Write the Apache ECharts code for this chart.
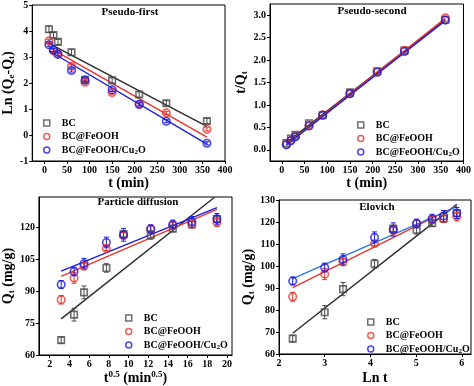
<!DOCTYPE html>
<html><head><meta charset="utf-8">
<script src="https://cdn.jsdelivr.net/npm/echarts@6/dist/echarts.min.js"></script>
<style>html,body{margin:0;padding:0;background:#fff}#c{width:474px;height:386px}</style>
</head><body><div id="c"></div>
<script>
// ---- data ----
const tMin = [10, 20, 30, 60, 90, 150, 210, 270, 360];
const sqrtT = [3.16, 4.47, 5.48, 7.75, 9.49, 12.25, 14.49, 16.43, 18.97];
const lnT = [2.30, 3.00, 3.40, 4.09, 4.50, 5.01, 5.35, 5.60, 5.89];
const seriesNames = ['BC', 'BC@FeOOH', 'BC@FeOOH/Cu2O'];

// Pseudo-first: ln(Qe-Qt)
const pfBC = [4.07, 3.84, 3.58, 3.18, 2.12, 2.10, 1.56, 1.22, 0.54];
const pfRed = [3.62, 3.24, 3.12, 2.64, 2.03, 1.63, 1.17, 0.85, 0.22];
const pfBlue = [3.47, 3.27, 3.10, 2.48, 2.11, 1.74, 1.18, 0.53, -0.32];
const pfErrBC = [0.12, 0.10, 0.10, 0.12, 0.08, 0.10, 0.10, 0.10, 0.10];
const pfErrRed = [0.06, 0.06, 0.06, 0.06, 0.06, 0.06, 0.06, 0.06, 0.06];
const pfErrBlue = [0.06, 0.06, 0.06, 0.06, 0.06, 0.06, 0.06, 0.06, 0.06];
const pfFitX = [10, 360];
const pfFitBC = [3.52, 0.33];
const pfFitRed = [3.37, -0.08];
const pfFitBlue = [3.24, -0.35];

// Pseudo-second: t/Qt
const psBC = [0.15, 0.25, 0.335, 0.59, 0.77, 1.28, 1.75, 2.21, 2.90];
const psRed = [0.12, 0.21, 0.30, 0.55, 0.78, 1.26, 1.74, 2.22, 2.94];
const psBlue = [0.11, 0.20, 0.29, 0.53, 0.77, 1.25, 1.73, 2.19, 2.89];
const psFitX = [10, 360];
const psFitBC = [0.16, 2.91];
const psFitRed = [0.12, 2.93];
const psFitBlue = [0.11, 2.88];

// Qt (mg/g) for particle diffusion and Elovich
const qBC = [67, 79, 89.5, 101, 117, 116.5, 119.5, 121.5, 124];
const qRed = [86, 96.3, 101.8, 110.2, 116.2, 119.3, 121, 121.5, 122.5];
const qBlue = [93.2, 99.3, 103, 113, 116.6, 119.3, 121.5, 122.7, 124.1];
const qErrBC = [1.5, 3, 3, 2, 1.5, 2, 1.5, 1.5, 1.5];
const qErrRed = [2, 2.5, 1.5, 1, 1.5, 1.5, 1.5, 1.5, 2];
const qErrBlue = [1.8, 2, 2.5, 2.5, 3, 2, 2, 2.5, 2.5];

const pdFitXBC = [3.16, 18.7];
const pdFitBC = [77, 134.2];
const pdFitX = [3.16, 18.97];
const pdFitRed = [97, 128.6];
const pdFitBlue = [99.5, 129.4];

const elFitX = [2.30, 5.89];
const elFitBC = [69.4, 128.0];
const elFitRed = [90.2, 127.3];
const elFitBlue = [94.3, 127.0];

// tick labels
const ticksT = [0, 50, 100, 150, 200, 250, 300, 350, 400];
const ticksPfY = [-1, 0, 1, 2, 3, 4, 5];
const ticksPsY = [0, 0.5, 1.0, 1.5, 2.0, 2.5, 3.0];
const ticksSqrt = [2, 4, 6, 8, 10, 12, 14, 16, 18, 20];
const ticksPdY = [60, 75, 90, 105, 120];
const ticksLn = [2, 3, 4, 5, 6];
const ticksElY = [60, 70, 80, 90, 100, 110, 120, 130];

const titles = ['Pseudo-first', 'Pseudo-second', 'Particle diffusion', 'Elovich'];

// ---- styles ----
const FONT = 'Liberation Serif';
const C_BC = '#4a4a4a', C_RED = '#e8352b', C_BLUE = '#1c1ce0';
const LINE_BC = '#2a2a2a';

const grids = [
  {left: 29, top: 5, width: 196, height: 156},
  {left: 270, top: 4, width: 194, height: 157},
  {left: 37, top: 197, width: 195, height: 158},
  {left: 279, top: 200, width: 192, height: 157}
];

const sub = {fontSize: 9, fontWeight: 'bold', fontFamily: FONT, padding: [7, 0, 0, 0]};
const sup = {fontSize: 9, fontWeight: 'bold', fontFamily: FONT, padding: [0, 0, 7, 0]};
const nameBase = {fontSize: 14, fontWeight: 'bold', fontFamily: FONT, color: '#000'};

function axis(gi, min, max, ticks, fmt, name, gap) {
  return {
    type: 'value', gridIndex: gi, min: min, max: max,
    name: name, nameLocation: 'middle', nameGap: gap,
    nameTextStyle: Object.assign({}, nameBase, {rich: {a: nameBase, s: sub, p: sup}}),
    axisLine: {show: true, onZero: false, lineStyle: {color: '#000', width: 1}},
    axisTick: {show: true, inside: false, length: 3, customValues: ticks, lineStyle: {color: '#000'}},
    axisLabel: {customValues: ticks, formatter: fmt, fontFamily: FONT, fontWeight: 'bold', fontSize: 10, color: '#000', margin: 4},
    splitLine: {show: false}
  };
}

const xAxes = [
  axis(0, -27, 400, ticksT, v => String(v), '{a|t (min)}', 15),
  axis(1, -26, 400, ticksT, v => String(v), '{a|t (min)}', 15),
  axis(2, 0.9, 20.5, ticksSqrt, v => String(v), '{a|t}{p|0.5}{a| (min}{p|0.5}{a|)}', 14),
  axis(3, 2, 6.2, ticksLn, v => String(v), '{a|Ln t}', 17)
];
const yAxes = [
  axis(0, -1, 5, ticksPfY, v => String(v), '{a|Ln (Q}{s|e}{a|-Q}{s|t}{a|)}', 12),
  axis(1, -0.25, 3.25, ticksPsY, v => v.toFixed(1), '{a|t/Q}{s|t}', 21),
  axis(2, 60, 134.4, ticksPdY, v => String(v), '{a|Q}{s|t}{a| (mg/g)}', 21),
  axis(3, 60, 130, ticksElY, v => String(v), '{a|Q}{s|t}{a| (mg/g)}', 21)
];

function pts(xs, ys, es) {
  return xs.map((x, i) => es ? [x, ys[i], es[i]] : [x, ys[i]]);
}

const colors = [C_BC, C_RED, C_BLUE];
const symbols = ['rect', 'circle', 'circle'];

function errSeries(gi, xs, ys, es, color) {
  return {
    type: 'custom', xAxisIndex: gi, yAxisIndex: gi, silent: true, z: 3,
    data: pts(xs, ys, es),
    renderItem: function (params, api) {
      const x = api.value(0), y = api.value(1), e = api.value(2);
      const a = api.coord([x, y + e]), b = api.coord([x, y - e]);
      const w = 2.5;
      const st = {stroke: color, lineWidth: 1};
      return {type: 'group', children: [
        {type: 'line', shape: {x1: a[0], y1: a[1], x2: b[0], y2: b[1]}, style: st},
        {type: 'line', shape: {x1: a[0] - w, y1: a[1], x2: a[0] + w, y2: a[1]}, style: st},
        {type: 'line', shape: {x1: b[0] - w, y1: b[1], x2: b[0] + w, y2: b[1]}, style: st}
      ]};
    }
  };
}

function scatter(gi, xs, ys, k) {
  return {
    type: 'scatter', name: seriesNames[k], xAxisIndex: gi, yAxisIndex: gi,
    data: pts(xs, ys), symbol: symbols[k], symbolSize: k === 0 ? 6.5 : 7.5, z: 4,
    itemStyle: {color: 'rgba(255,255,255,0)', borderColor: colors[k], borderWidth: 1.6}
  };
}

function fit(gi, xs, ys, color) {
  return {
    type: 'line', name: 'fit', xAxisIndex: gi, yAxisIndex: gi, data: pts(xs, ys),
    showSymbol: false, symbol: 'none', z: 2, silent: true,
    lineStyle: {color: color, width: 1.4}
  };
}

const series = [];
// panel 0
series.push(fit(0, pfFitX, pfFitBC, LINE_BC), fit(0, pfFitX, pfFitRed, C_RED), fit(0, pfFitX, pfFitBlue, C_BLUE));
series.push(errSeries(0, tMin, pfBC, pfErrBC, C_BC), errSeries(0, tMin, pfRed, pfErrRed, C_RED), errSeries(0, tMin, pfBlue, pfErrBlue, C_BLUE));
series.push(scatter(0, tMin, pfBC, 0), scatter(0, tMin, pfRed, 1), scatter(0, tMin, pfBlue, 2));
// panel 1
series.push(fit(1, psFitX, psFitBC, LINE_BC), fit(1, psFitX, psFitRed, C_RED), fit(1, psFitX, psFitBlue, C_BLUE));
series.push(scatter(1, tMin, psBC, 0), scatter(1, tMin, psRed, 1), scatter(1, tMin, psBlue, 2));
// panel 2
series.push(fit(2, pdFitXBC, pdFitBC, LINE_BC), fit(2, pdFitX, pdFitRed, C_RED), fit(2, pdFitX, pdFitBlue, C_BLUE));
series.push(errSeries(2, sqrtT, qBC, qErrBC, C_BC), errSeries(2, sqrtT, qRed, qErrRed, C_RED), errSeries(2, sqrtT, qBlue, qErrBlue, C_BLUE));
series.push(scatter(2, sqrtT, qBC, 0), scatter(2, sqrtT, qRed, 1), scatter(2, sqrtT, qBlue, 2));
// panel 3
series.push(fit(3, elFitX, elFitBC, LINE_BC), fit(3, elFitX, elFitRed, C_RED), fit(3, elFitX, elFitBlue, '#2a78e0'));
series.push(errSeries(3, lnT, qBC, qErrBC, C_BC), errSeries(3, lnT, qRed, qErrRed, C_RED), errSeries(3, lnT, qBlue, qErrBlue, C_BLUE));
series.push(scatter(3, lnT, qBC, 0), scatter(3, lnT, qRed, 1), scatter(3, lnT, qBlue, 2));

const legTxt = {fontSize: 10, fontWeight: 'bold', fontFamily: FONT, color: '#000'};
function legend(left, top) {
  return {
    data: seriesNames.map((n, k) => ({
      name: n, icon: symbols[k],
      itemStyle: {color: 'rgba(255,255,255,0)', borderColor: colors[k], borderWidth: 1.5}
    })),
    left: left, top: top, orient: 'vertical',
    itemWidth: 6, itemHeight: 6, itemGap: 3.5, selectedMode: false, padding: 0,
    formatter: n => n === 'BC@FeOOH/Cu2O' ? '{a|BC@FeOOH/Cu}{s|2}{a|O}' : '{a|' + n + '}',
    textStyle: Object.assign({}, legTxt, {padding: [0, 0, 0, 7], rich: {a: legTxt, s: {fontSize: 7, fontWeight: 'bold', fontFamily: FONT, padding: [5, 0, 0, 0]}}})
  };
}

const titleStyle = {fontSize: 11, fontWeight: 'bold', fontFamily: FONT, color: '#000'};
const titlePos = [[130, 7], [372, 6], [138, 197], [377, 202]];

const option = {
  animation: false,
  grid: grids.map(g => Object.assign({show: true, borderColor: '#000', borderWidth: 1, backgroundColor: 'transparent'}, g)),
  xAxis: xAxes,
  yAxis: yAxes,
  legend: [legend(43, 118), legend(357, 120), legend(125, 313), legend(367, 317)],
  title: titles.map((t, i) => ({text: t, left: titlePos[i][0], top: titlePos[i][1], textAlign: 'center', padding: 0, textStyle: titleStyle})),
  series: series
};

const chart = echarts.init(document.getElementById('c'), null, {renderer: 'canvas'});
chart.setOption(option);
</script></body></html>
